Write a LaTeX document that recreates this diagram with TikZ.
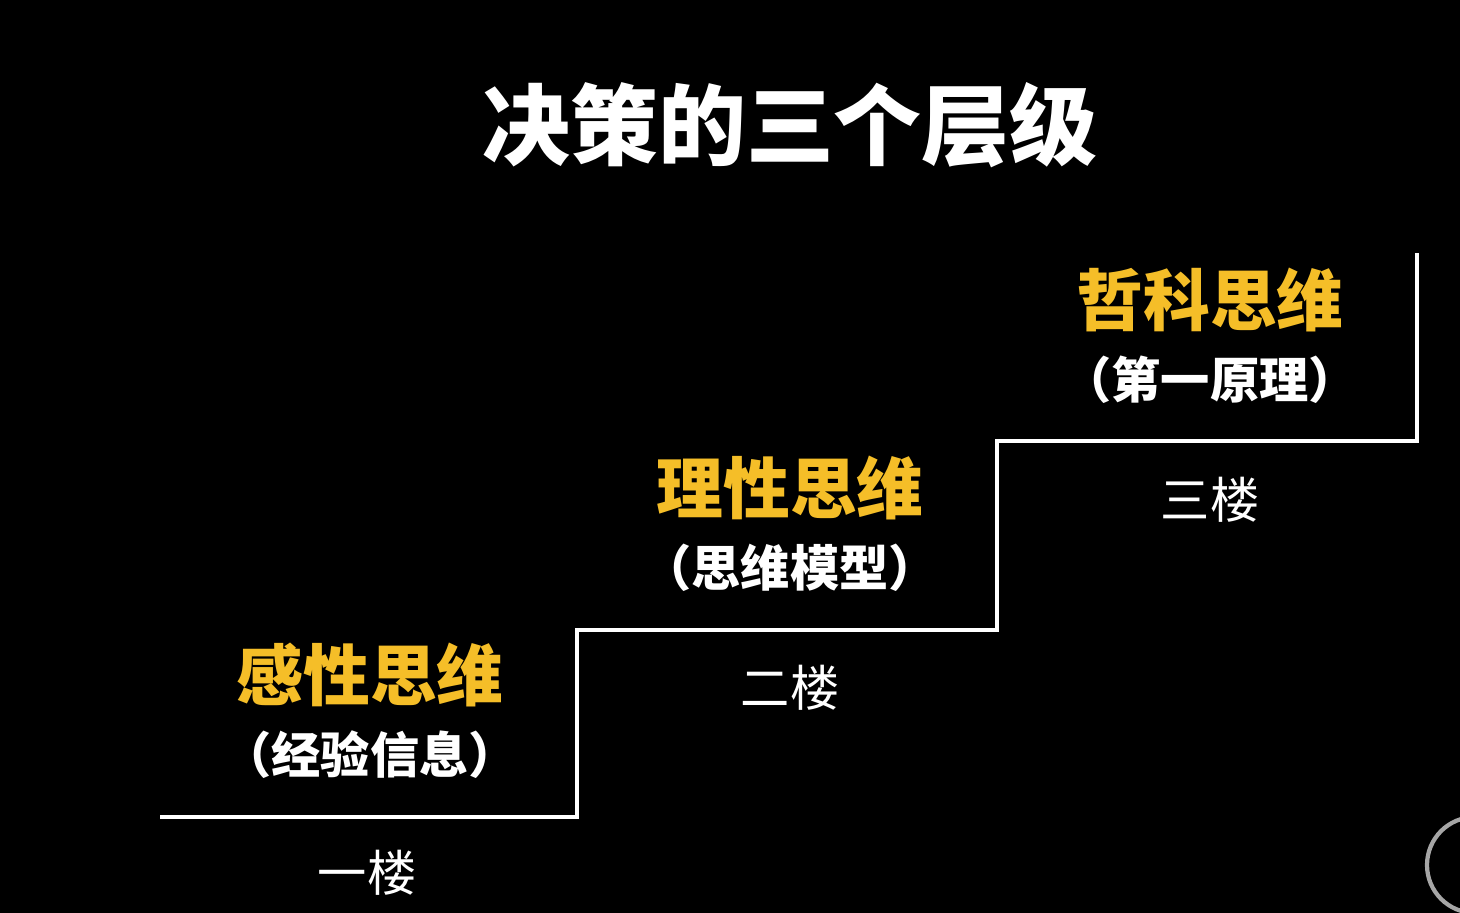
\documentclass[tikz,border=0pt]{standalone}
\usepackage{fontspec}
\newfontfamily\cjk{Noto Sans CJK SC}
\usetikzlibrary{positioning}
\definecolor{gold}{RGB}{245,190,40}
\tikzset{
  level/.style={text=gold, font=\cjk\bfseries\fontsize{19}{19}\selectfont},
  note/.style={text=white, font=\cjk\bfseries\fontsize{14}{14}\selectfont},
  floor/.style={text=white, font=\cjk\fontsize{14}{14}\selectfont},
}
\begin{document}
\begin{tikzpicture}[x=0.01cm, y=-0.01cm]
\fill[black] (0,0) rectangle (1460,913);
\useasboundingbox (0,0) rectangle (1460,913);
\node[text=white, font=\cjk\bfseries\fontsize{25}{25}\selectfont] (title) at (790,125) {决策的三个层级};
% steps
\coordinate (s0) at (160,817);
\coordinate (s1) at (577,817);
\coordinate (s2) at (577,630);
\coordinate (s3) at (997,630);
\coordinate (s4) at (997,441);
\coordinate (s5) at (1417,441);
\coordinate (s6) at (1417,253);
\draw[white, line width=1.3pt] (s0) -- (s1) -- (s2) -- (s3) -- (s4) -- (s5) -- (s6);
\node[level] (l1) at (370,675) {感性思维};
\node[note] (n1) at (370,755) {（经验信息）};
\node[floor] (f1) at (367,873) {一楼};
\node[level] (l2) at (790,488) {理性思维};
\node[note] (n2) at (790,568) {（思维模型）};
\node[floor] (f2) at (790,688) {二楼};
\node[level] (l3) at (1210,300) {哲科思维};
\node[note] (n3) at (1210,380) {（第一原理）};
\node[floor] (f3) at (1210,500) {三楼};
\draw[gray!70, line width=1.2pt] (1475,865) circle (48);
\end{tikzpicture}
\end{document}
